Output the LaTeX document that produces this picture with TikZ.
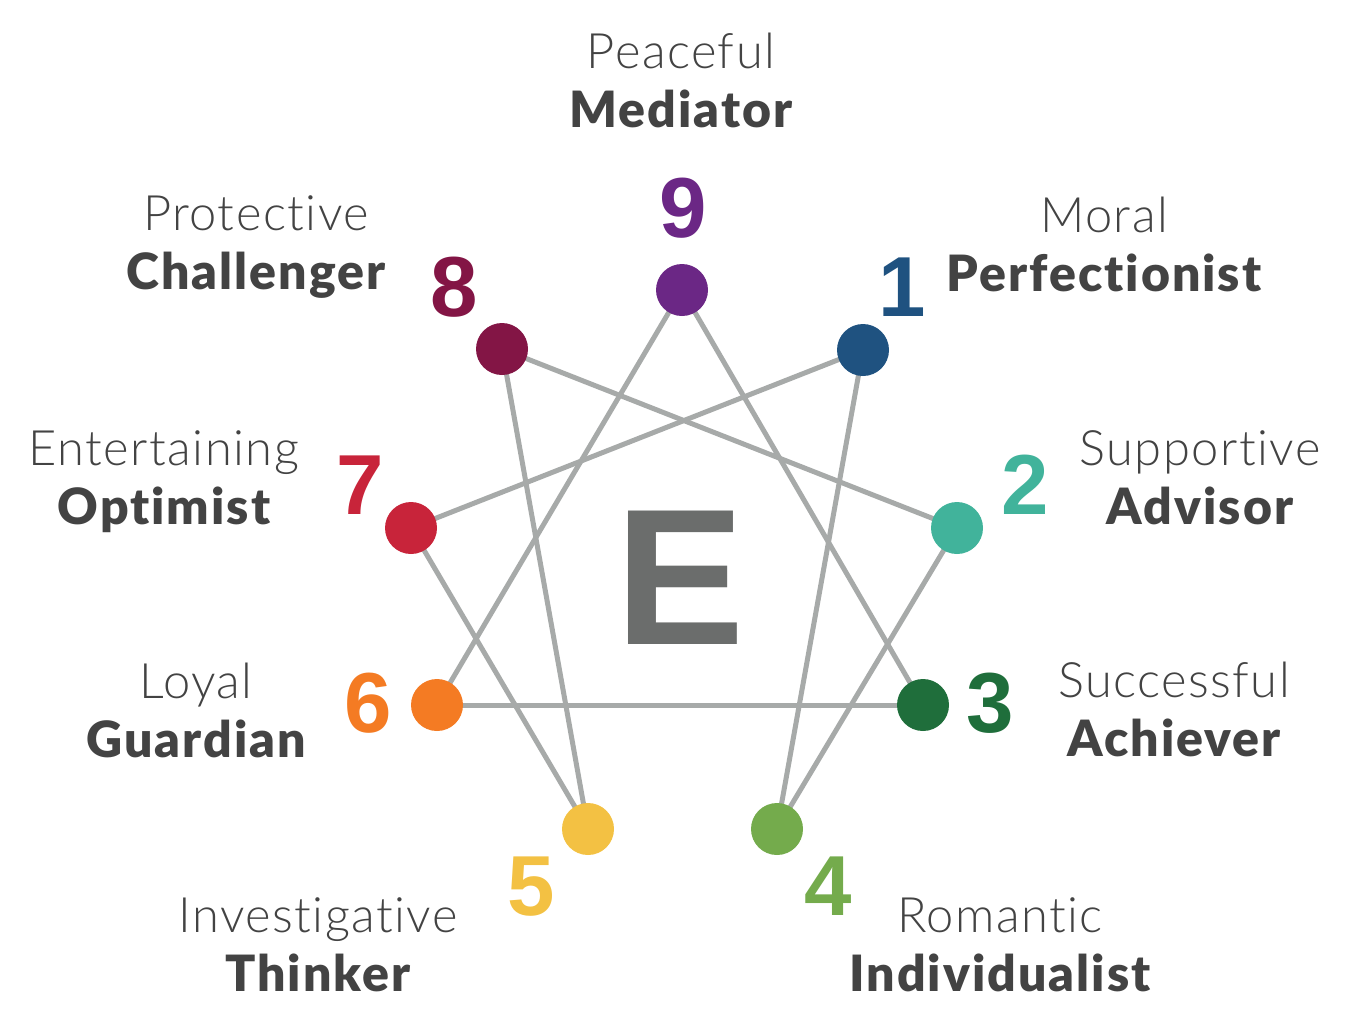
\documentclass[tikz,border=0pt]{standalone}
\usepackage{fontspec}
\usetikzlibrary{backgrounds}
\newfontfamily\lightfont{Lato Light}[Ligatures=NoCommon, LetterSpace=3]
\newfontfamily\heavyfont{Lato Black}[Ligatures=NoCommon, LetterSpace=4]
\newfontfamily\numfont{Liberation Sans}
\definecolor{c1}{HTML}{1F5280}
\definecolor{c2}{HTML}{41B39B}
\definecolor{c3}{HTML}{1F6E3B}
\definecolor{c4}{HTML}{74AB4C}
\definecolor{c5}{HTML}{F3C143}
\definecolor{c6}{HTML}{F47B23}
\definecolor{c7}{HTML}{C8243A}
\definecolor{c8}{HTML}{831545}
\definecolor{c9}{HTML}{6B2785}
\definecolor{linegray}{HTML}{A7AAA9}
\definecolor{textgray}{HTML}{434343}
\definecolor{egray}{HTML}{6B6D6C}

\begin{document}
\begin{tikzpicture}[x=0.5pt, y=-0.5pt,
  dot/.style={circle, inner sep=0, minimum size=26pt},
  link/.style={draw=linegray, line width=2.5pt},
  digit/.style={inner sep=0, font=\numfont\bfseries\fontsize{42.6}{44}\selectfont},
  adjective/.style={anchor=base, inner sep=0, text=textgray, font=\lightfont\fontsize{24.4}{26}\selectfont},
  title/.style={anchor=base, inner sep=0, text=textgray, font=\heavyfont\fontsize{25}{27}\selectfont}]
\useasboundingbox (0,0) rectangle (1360,1030);
% points of the star
\foreach \n/\x/\y in {9/682/290, 1/863/350, 2/957/528, 3/923/705, 4/777/829, 5/588/829, 6/437/705, 7/411/528, 8/502/349}
 \node[dot, fill=c\n] (p\n) at (\x,\y) {};
\begin{scope}[on background layer]
\foreach \a/\b in {9/3, 3/6, 6/9, 1/4, 4/2, 2/8, 8/5, 5/7, 7/1}
 \draw[link] (p\a.center) -- (p\b.center);
\end{scope}
% numbers
\foreach \n/\x/\y in {9/683/208, 1/902/287, 2/1025/485, 3/990/703, 4/828/886, 5/531/887, 6/368/703, 7/360/485, 8/454/287}
 \node[digit, text=c\n] (d\n) at (\x,\y) {\n};
% names
\foreach \n/\x/\y/\adj/\name in {9/681/68/Peaceful/Mediator, 1/1104/232/Moral/Perfectionist, 2/1200/465/Supportive/Advisor, 3/1174/697/Successful/Achiever, 4/1000/932/Romantic/Individualist, 5/318/932/Investigative/Thinker, 6/196/698/Loyal/Guardian, 7/164/465/Entertaining/Optimist, 8/256/230/Protective/Challenger} {
 \node[adjective] (a\n) at (\x,\y) {\adj};
 \node[title] (t\n) at (\x,\y+59) {\name};
}
\node[inner sep=0, text=egray, font=\numfont\bfseries\fontsize{97}{99}\selectfont] (e) at (680,577.5) {E};
\end{tikzpicture}
\end{document}
